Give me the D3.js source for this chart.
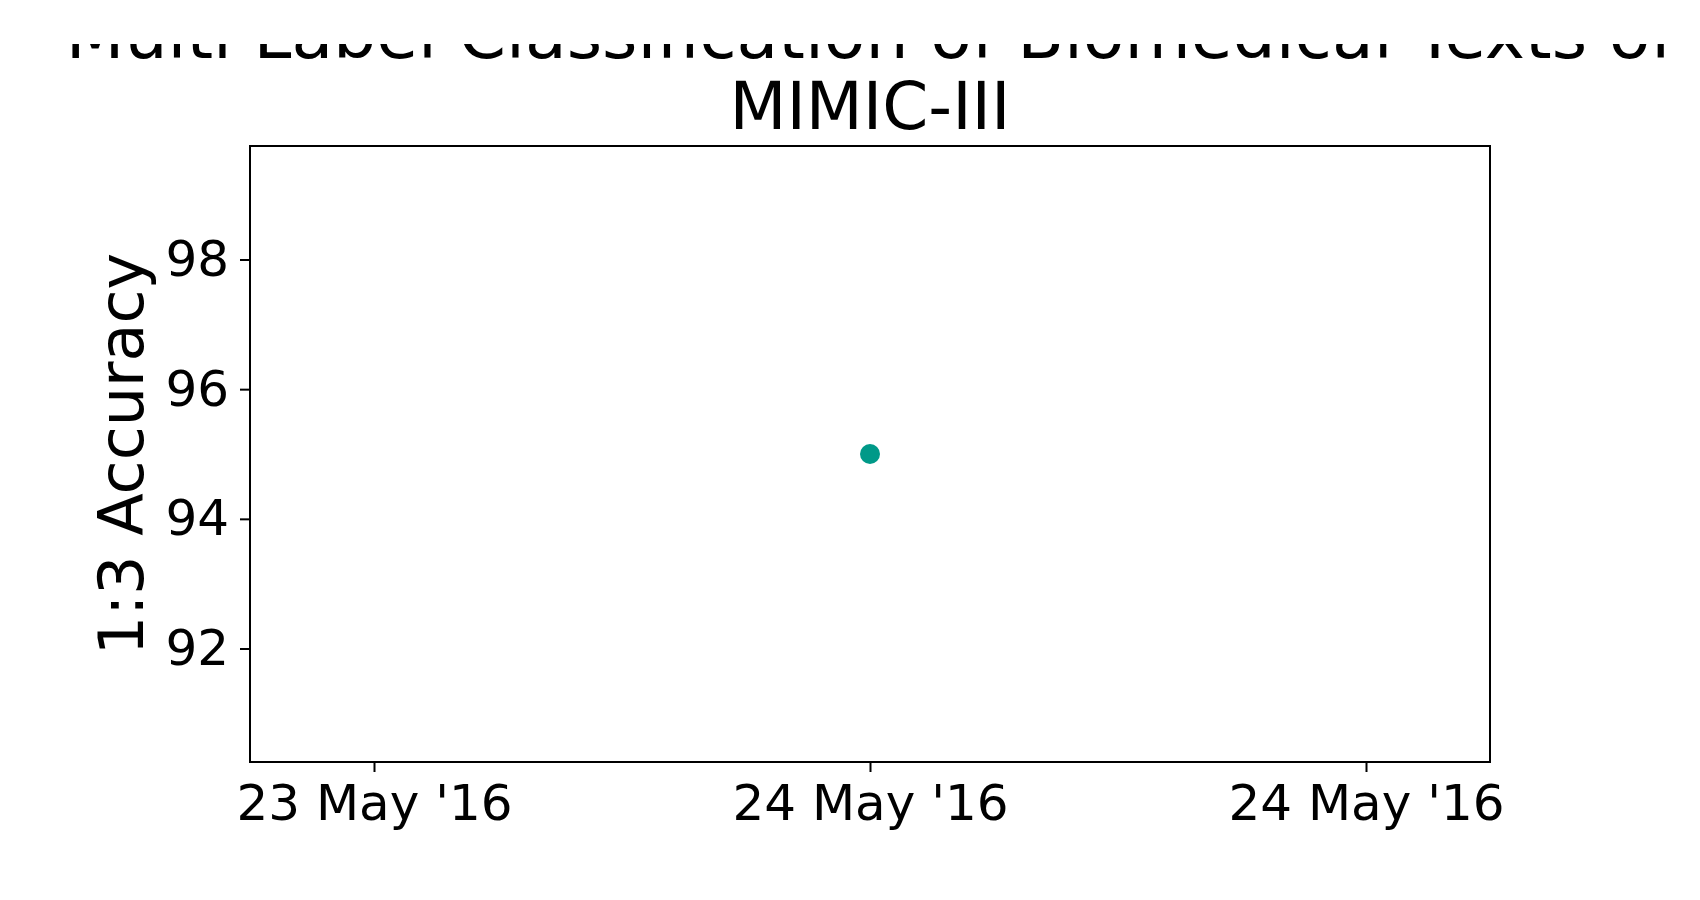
<!DOCTYPE html>
<html>
<head>
<meta charset="utf-8">
<script src="https://cdn.jsdelivr.net/npm/d3@7"></script>
<style>
  body { margin: 0; background: #fff; }
  svg { display: block; font-family: "DejaVu Sans", sans-serif; }
</style>
</head>
<body>
<svg id="chart"></svg>
<script>
// Chart data
const dates = ["2016-05-24T00:00"];
const accuracy = [95];
const xTickDates = ["2016-05-23T12:00", "2016-05-24T00:00", "2016-05-24T12:00"];
const xDomainDates = ["2016-05-23T09:00", "2016-05-24T15:00"];
const yTicks = [92, 94, 96, 98];
const yDomain = [90.25, 99.75];
const titleLines = ["Multi Label Classification of Biomedical Texts of", "MIMIC-III"];
const yLabel = "1:3 Accuracy";

const width = 1700;
const height = 900;
const margin = { top: 146, right: 210, bottom: 138, left: 250 };

const parse = d3.timeParse("%Y-%m-%dT%H:%M");
const fmt = d3.timeFormat("%d %b '%y");

const svg = d3.select("#chart")
  .attr("width", width)
  .attr("height", height);

const x = d3.scaleTime()
  .domain(xDomainDates.map(parse))
  .range([margin.left, width - margin.right]);

const y = d3.scaleLinear()
  .domain(yDomain)
  .range([height - margin.bottom, margin.top]);

// Title: first line is cut off at the top in the original
svg.append("clipPath").attr("id", "title-clip")
  .append("rect")
  .attr("x", 0).attr("y", 44)
  .attr("width", width).attr("height", height);

svg.append("text")
  .attr("clip-path", "url(#title-clip)")
  .attr("x", 870).attr("y", 58)
  .attr("text-anchor", "middle")
  .style("font-size", "68px")
  .text(titleLines[0]);

svg.append("text")
  .attr("x", 870).attr("y", 129)
  .attr("text-anchor", "middle")
  .style("font-size", "66px")
  .text(titleLines[1]);

// Axes
const xAxis = svg.append("g")
  .attr("transform", `translate(0,${height - margin.bottom})`)
  .call(d3.axisBottom(x)
    .tickValues(xTickDates.map(parse))
    .tickFormat(fmt)
    .tickSize(10)
    .tickPadding(12));

const yAxis = svg.append("g")
  .attr("transform", `translate(${margin.left},0)`)
  .call(d3.axisLeft(y)
    .tickValues(yTicks)
    .tickFormat(d3.format("d"))
    .tickSize(10)
    .tickPadding(11));

[xAxis, yAxis].forEach(g => {
  g.select(".domain").remove();
  g.selectAll(".tick line").attr("stroke", "#000").attr("stroke-width", 2);
  g.selectAll(".tick text")
    .attr("fill", "#000")
    .style("font-family", "DejaVu Sans, sans-serif")
    .style("font-size", "50px");
});

// Frame
svg.append("rect")
  .attr("x", margin.left)
  .attr("y", margin.top)
  .attr("width", width - margin.left - margin.right)
  .attr("height", height - margin.top - margin.bottom)
  .attr("fill", "none")
  .attr("stroke", "#000")
  .attr("stroke-width", 2);

// Y label
svg.append("text")
  .attr("transform", `translate(143,${(margin.top + height - margin.bottom) / 2}) rotate(-90)`)
  .attr("text-anchor", "middle")
  .style("font-size", "62px")
  .text(yLabel);

// Points
svg.selectAll(".dot")
  .data(dates.map((d, i) => ({ date: parse(d), value: accuracy[i] })))
  .enter()
  .append("circle")
  .attr("class", "dot")
  .attr("cx", d => x(d.date))
  .attr("cy", d => y(d.value))
  .attr("r", 10)
  .attr("fill", "#009988");
</script>
</body>
</html>
